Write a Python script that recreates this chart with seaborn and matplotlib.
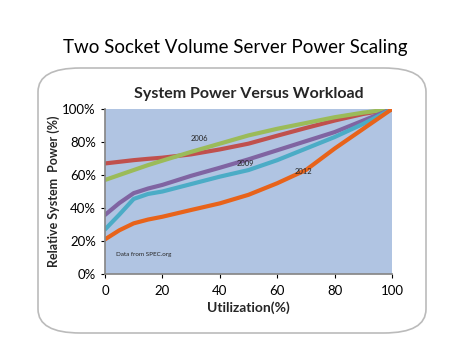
import pandas as pd
import seaborn as sns
import matplotlib.pyplot as plt
from matplotlib.patches import FancyBboxPatch
from matplotlib.ticker import PercentFormatter

# Values
util = [0, 5, 10, 15, 20, 30, 40, 50, 60, 70, 80, 90, 100]
p2006a = [67, 68, 69, 69.8, 70.5, 72.5, 75.5, 79, 83.8, 88.5, 93, 97, 100]   # red
p2006b = [57, 60, 63, 66, 68.7, 74, 79, 84, 88, 91.5, 95, 97.8, 100]        # green
p2009a = [35.8, 43, 49, 51.8, 54, 59.5, 64.4, 69.5, 75, 80.5, 86, 93, 100]  # purple
p2009b = [27, 36, 45.5, 48.5, 50, 54.5, 59, 63, 69, 76, 83, 91, 100]        # cyan
p2012 = [21, 26.5, 30.7, 33, 34.7, 38.8, 42.8, 48, 55, 63, 76, 88, 100]     # orange

series = {"2006a": p2006a, "2006b": p2006b, "2009a": p2009a,
          "2009b": p2009b, "2012": p2012}
palette = {"2006a": "#C0504D", "2006b": "#9BBB59", "2009a": "#8064A2",
           "2009b": "#4BACC6", "2012": "#E8631A"}

df = pd.DataFrame([(u, k, v) for k, vals in series.items()
                   for u, v in zip(util, vals)],
                  columns=["Utilization", "Series", "Power"])

sns.set_theme(style="white")
plt.rcParams["font.family"] = ["Lato", "DejaVu Sans"]

fig = plt.figure(figsize=(4.7, 3.53), dpi=100)
fig.patch.set_facecolor("white")

# rounded frame around the chart
frame = FancyBboxPatch((38 / 470, 20 / 353), 388 / 470, 265 / 353,
                       boxstyle="round,pad=0,rounding_size=0.09",
                       transform=fig.transFigure, facecolor="white",
                       edgecolor="#BBBBBB", linewidth=1.2,
                       mutation_aspect=353 / 470, zorder=-10)
fig.patches.append(frame)

fig.text(0.5, 1 - 47 / 353, "Two Socket Volume Server Power Scaling",
         ha="center", va="center", fontsize=13.5, color="black")

ax = fig.add_axes([105 / 470, 1 - 274 / 353, 287 / 470, 165 / 353])
ax.set_facecolor("#B0C4E2")
sns.lineplot(data=df, x="Utilization", y="Power", hue="Series",
             palette=palette, linewidth=3, legend=False, ax=ax)

ax.set_xlim(0, 100)
ax.set_ylim(0, 100)
ax.set_xticks([0, 20, 40, 60, 80, 100])
ax.set_yticks([0, 20, 40, 60, 80, 100])
ax.yaxis.set_major_formatter(PercentFormatter(decimals=0))
ax.tick_params(axis="both", labelsize=9.5, colors="black", length=3,
               direction="out", bottom=True, left=True, width=0.8)
ax.tick_params(axis="x", pad=5)
for s in ax.spines.values():
    s.set_visible(False)
ax.spines["left"].set_visible(True)
ax.spines["bottom"].set_visible(True)
ax.spines["left"].set_color("#888888")
ax.spines["bottom"].set_color("#888888")

ax.set_title("System Power Versus Workload", fontsize=11.5, fontweight="bold", pad=8)
ax.set_xlabel("Utilization(%)", fontsize=10, fontweight="bold", labelpad=3)
ax.set_ylabel("Relative System  Power (%)", fontsize=9, fontweight="bold", labelpad=2)

ax.text(33, 82, "2006", fontsize=5.5, ha="center", va="center")
ax.text(49, 66.7, "2009", fontsize=5.5, ha="center", va="center")
ax.text(69, 62.4, "2012", fontsize=5.5, ha="center", va="center")
ax.text(4, 12, "Data from SPEC.org", fontsize=4.5, ha="left", va="center")

fig.savefig("out.png", dpi=100)
